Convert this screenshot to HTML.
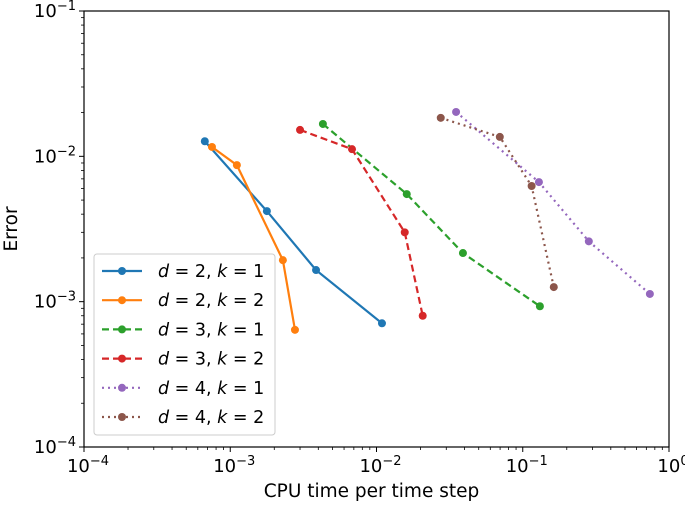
<!DOCTYPE html>
<html><head><meta charset="utf-8"><style>
body{margin:0;background:#fff;}
svg text{font-family:"DejaVu Sans","Liberation Sans",sans-serif;fill:#000;}
</style></head><body>
<svg id="chart" width="685" height="503" viewBox="0 0 685 503">
<g id="axes"></g><g id="series"></g><g id="legend"></g>
</svg>
<script>
const xTickExps=[-4,-3,-2,-1,0];
const yTickExps=[-4,-3,-2,-1];
const seriesLabels=["d = 2, k = 1","d = 2, k = 2","d = 3, k = 1","d = 3, k = 2","d = 4, k = 1","d = 4, k = 2"];
const xD2K1=[6.7e-4,1.78e-3,3.86e-3,1.09e-2];
const yD2K1=[1.27e-2,4.2e-3,1.65e-3,7.1e-4];
const xD2K2=[7.5e-4,1.11e-3,2.29e-3,2.77e-3];
const yD2K2=[1.16e-2,8.7e-3,1.93e-3,6.4e-4];
const xD3K1=[4.3e-3,1.61e-2,3.9e-2,0.131];
const yD3K1=[1.67e-2,5.5e-3,2.16e-3,9.3e-4];
const xD3K2=[3.0e-3,6.8e-3,1.56e-2,2.07e-2];
const yD3K2=[1.52e-2,1.12e-2,3.0e-3,8.0e-4];
const xD4K1=[3.5e-2,0.129,0.283,0.74];
const yD4K1=[2.02e-2,6.65e-3,2.6e-3,1.13e-3];
const xD4K2=[2.75e-2,6.97e-2,0.115,0.163];
const yD4K2=[1.84e-2,1.36e-2,6.25e-3,1.26e-3];

const L=84,R=669,T=11,B=447;
const NS="http://www.w3.org/2000/svg";
function X(v){return L+(Math.log10(v)+4)/4*(R-L);}
function Y(v){return B-(Math.log10(v)+4)/3*(B-T);}
function mk(tag,attrs,parent){const e=document.createElementNS(NS,tag);for(const k in attrs)e.setAttribute(k,attrs[k]);parent.appendChild(e);return e;}
const axes=document.getElementById('axes');
const frame=mk('rect',{x:L,y:T,width:R-L,height:B-T,fill:'none',stroke:'#000','stroke-width':1.2},axes);


function sup(parent,x,y,base,exp,anchor){
  const t=mk('text',{x:x,y:y,'font-size':18,'text-anchor':anchor},parent);
  const a=document.createElementNS(NS,'tspan');a.textContent=base;t.appendChild(a);
  const b=document.createElementNS(NS,'tspan');b.setAttribute('dy','-7');b.setAttribute('font-size','13');b.textContent=exp;t.appendChild(b);
  return t;
}
xTickExps.forEach((e,i)=>{
  const x=X(Math.pow(10,e));
  mk('line',{x1:x,x2:x,y1:B,y2:B+5,stroke:'#000','stroke-width':1},axes);
  const t=sup(axes,x+4,B+25,'10',e===0?'0':'\u2212'+(-e),'middle');
  
  
  if(e<0)for(let m=2;m<10;m++){const xm=X(m*Math.pow(10,e));mk('line',{x1:xm,x2:xm,y1:B,y2:B+3,stroke:'#000','stroke-width':0.8},axes);}
});
yTickExps.forEach(e=>{
  const y=Y(Math.pow(10,e));
  mk('line',{x1:L-5,x2:L,y1:y,y2:y,stroke:'#000','stroke-width':1},axes);
  const t=sup(axes,L-8,y+6,'10','\u2212'+(-e),'end');
  
  
  if(e<-1)for(let m=2;m<10;m++){const ym=Y(m*Math.pow(10,e));mk('line',{x1:L-3,x2:L,y1:ym,y2:ym,stroke:'#000','stroke-width':0.8},axes);}
});
const xt=mk('text',{x:(L+R)/2-5,y:497,'font-size':18.5,'text-anchor':'middle'},axes);xt.textContent='CPU time per time step';


const yt=mk('text',{x:17,y:(T+B)/2,'font-size':18.5,'text-anchor':'middle',transform:`rotate(-90 17 ${(T+B)/2})`},axes);yt.textContent='Error';



const colors=['#1f77b4','#ff7f0e','#2ca02c','#d62728','#9467bd','#8c564b'];
const dashes=['','','7,4','7,4','2,4','2,4'];
const xs=[xD2K1,xD2K2,xD3K1,xD3K2,xD4K1,xD4K2];
const ys=[yD2K1,yD2K2,yD3K1,yD3K2,yD4K1,yD4K2];
const sg=document.getElementById('series');
xs.forEach((xa,i)=>{
  const g=mk('g',{},sg);
  
  
  const pts=xa.map((v,j)=>X(v)+','+Y(ys[i][j])).join(' ');
  const pl=mk('polyline',{points:pts,fill:'none',stroke:colors[i],'stroke-width':2.2,'stroke-dasharray':dashes[i]},g);
  
  
  xa.forEach((v,j)=>{const c=mk('circle',{cx:X(v),cy:Y(ys[i][j]),r:4,fill:colors[i]},g);
    
    });
});
const lg=document.getElementById('legend');


mk('rect',{x:94,y:254,width:181,height:181,rx:3,fill:'#fff','fill-opacity':0.85,stroke:'#ccc','stroke-width':1},lg);
seriesLabels.forEach((s,i)=>{
  const y=271+i*29.2;
  const g=mk('g',{},lg);
  
  
  mk('line',{x1:102,x2:142,y1:y,y2:y,stroke:colors[i],'stroke-width':2.2,'stroke-dasharray':dashes[i]},g);
  mk('circle',{cx:122,cy:y,r:4,fill:colors[i]},g);
  const p=s.split(', ');
  const t=mk('text',{x:158,y:y+6,'font-size':17.5},g);
  t.innerHTML='<tspan font-style="italic">d</tspan> = '+p[0].split('= ')[1]+', <tspan font-style="italic">k</tspan> = '+p[1].split('= ')[1];
});
</script>
</body></html>
